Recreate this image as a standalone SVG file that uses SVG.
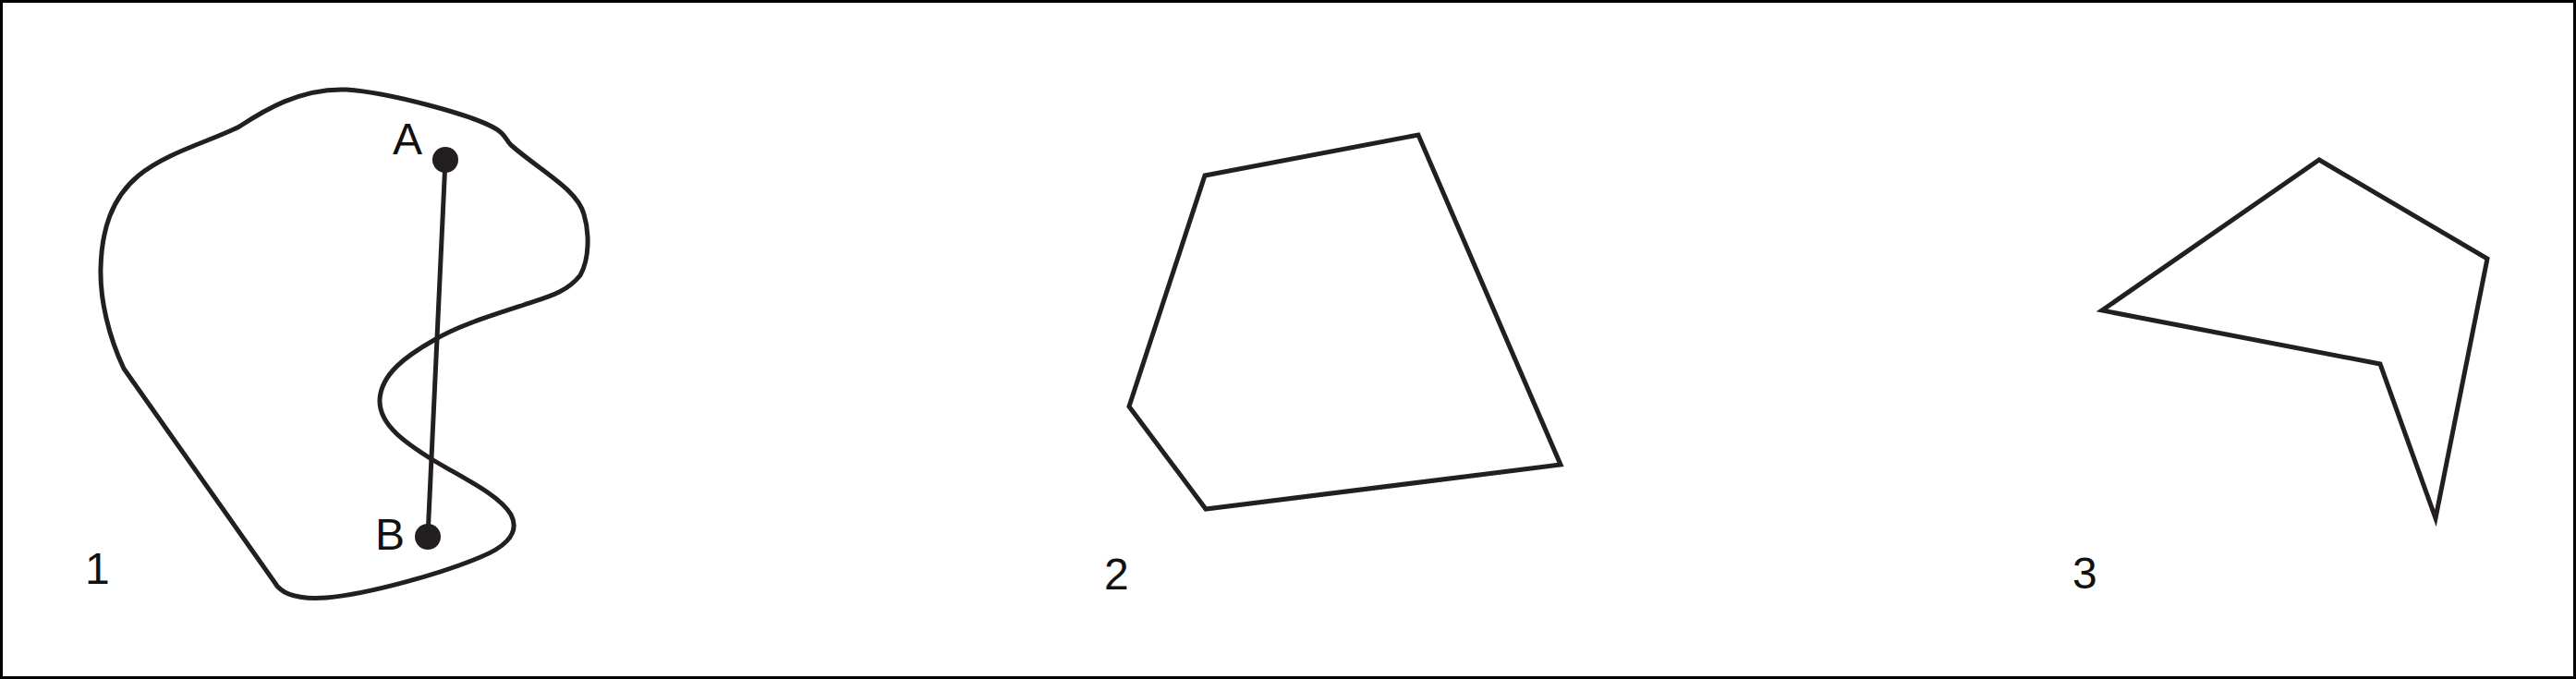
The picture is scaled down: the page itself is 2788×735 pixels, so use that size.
<svg xmlns="http://www.w3.org/2000/svg" width="2788" height="735" viewBox="0 0 2788 735">
  <style>
    .shape { fill: none; stroke: #231f20; stroke-width: 5; stroke-linejoin: miter; stroke-miterlimit: 12; }
    .dot { fill: #231f20; }
    .lbl { font-family: "Liberation Sans", Arial, sans-serif; font-size: 48px; fill: #111; }
    .conn { stroke: #231f20; stroke-width: 5; fill: none; }
  </style>
  <rect id="frame" x="1.5" y="1.5" width="2785" height="732" fill="#fff" stroke="#000" stroke-width="3"/>

  <g id="figure1">
    <path class="shape" d="M 259,137
      C 285,120 325,95 375,97
      C 420,100 510,124 536,139
      C 547,145 547,151 553,157
      C 585,185 625,205 632,232
      C 638,252 638,280 628,298
      C 612,318 590,322 567,330
      C 530,342 495,353 470,368
      C 440,385 412,405 411,433
      C 410,460 440,480 467,497
      C 500,517 540,535 553,557
      C 565,580 540,595 520,603
      C 480,620 400,643 353,647
      C 325,649 305,645 297,630
      L 134,399
      C 118,365 108,325 109,290
      C 110,250 120,215 150,190
      C 180,165 230,152 259,137 Z"/>
    <text class="lbl" x="92" y="632">1</text>
  </g>

  <g id="pointA">
    <circle class="dot" cx="482" cy="173" r="14"/>
    <text class="lbl" x="425" y="167">A</text>
  </g>

  <g id="pointB">
    <circle class="dot" cx="463" cy="581" r="14"/>
    <text class="lbl" x="406" y="595">B</text>
  </g>

  <g id="connectors">
    <line class="conn" x1="482" y1="173" x2="463" y2="581"/>
  </g>

  <g id="figure2">
    <polygon class="shape" points="1304,190 1535,146 1689,503 1305,551 1222,440"/>
    <text class="lbl" x="1195" y="638">2</text>
  </g>

  <g id="figure3">
    <polygon class="shape" points="2510,173 2692,280 2636,561 2576,394 2275,336"/>
    <text class="lbl" x="2243" y="637">3</text>
  </g>
</svg>
